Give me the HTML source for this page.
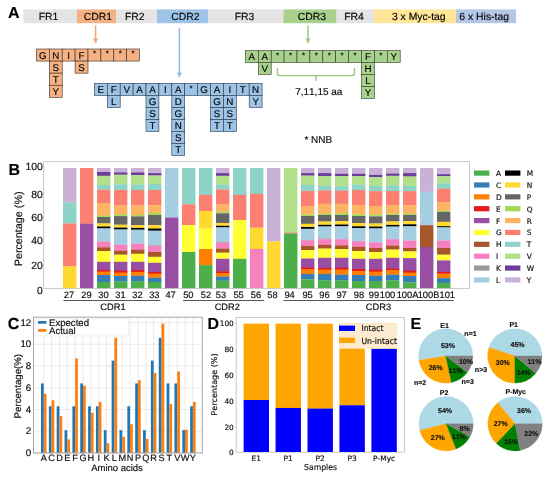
<!DOCTYPE html>
<html><head><meta charset="utf-8"><title>Figure</title>
<style>
html,body{margin:0;padding:0;background:#fff;}
body{width:550px;height:481px;overflow:hidden;}
svg{display:block;filter:blur(0.3px);}
svg text{text-rendering:geometricPrecision;font-kerning:none;stroke:#1a1a1a;stroke-width:0.18px;}
</style></head><body>
<svg width="550" height="481" viewBox="0 0 550 481">
<rect x="0" y="0" width="550" height="481" fill="#ffffff"/>
<g id="panelA">
<text x="7.90" y="18.40" font-size="16" text-anchor="start" font-family='"Liberation Sans", Arial, sans-serif' font-weight="bold" fill="#000">A</text>
<rect x="23.40" y="9.40" width="53.60" height="13.80" fill="#E4E4E4"/>
<rect x="77.00" y="9.40" width="39.00" height="13.80" fill="#F4B183"/>
<rect x="116.00" y="9.40" width="41.00" height="13.80" fill="#E4E4E4"/>
<rect x="157.00" y="9.40" width="51.40" height="13.80" fill="#9DC3E6"/>
<rect x="208.40" y="9.40" width="75.00" height="13.80" fill="#E4E4E4"/>
<rect x="283.40" y="9.40" width="53.20" height="13.80" fill="#A9D18E"/>
<rect x="336.60" y="9.40" width="37.40" height="13.80" fill="#E4E4E4"/>
<rect x="374.00" y="9.40" width="82.00" height="13.80" fill="#FFE699"/>
<rect x="456.00" y="9.40" width="60.00" height="13.80" fill="#B4C7E7"/>
<text x="48.50" y="20.10" font-size="10.4" text-anchor="middle" font-family='"Liberation Sans", Arial, sans-serif' fill="#000">FR1</text>
<text x="97.90" y="20.10" font-size="10.4" text-anchor="middle" font-family='"Liberation Sans", Arial, sans-serif' fill="#000">CDR1</text>
<text x="134.80" y="20.10" font-size="10.4" text-anchor="middle" font-family='"Liberation Sans", Arial, sans-serif' fill="#000">FR2</text>
<text x="185.50" y="20.10" font-size="10.4" text-anchor="middle" font-family='"Liberation Sans", Arial, sans-serif' fill="#000">CDR2</text>
<text x="244.50" y="20.10" font-size="10.4" text-anchor="middle" font-family='"Liberation Sans", Arial, sans-serif' fill="#000">FR3</text>
<text x="312.00" y="20.10" font-size="10.4" text-anchor="middle" font-family='"Liberation Sans", Arial, sans-serif' fill="#000">CDR3</text>
<text x="354.00" y="20.10" font-size="10.4" text-anchor="middle" font-family='"Liberation Sans", Arial, sans-serif' fill="#000">FR4</text>
<text x="418.80" y="20.10" font-size="10.4" text-anchor="middle" font-family='"Liberation Sans", Arial, sans-serif' fill="#000">3 x Myc-tag</text>
<text x="484.20" y="20.10" font-size="10.4" text-anchor="middle" font-family='"Liberation Sans", Arial, sans-serif' fill="#000">6 x His-tag</text>
<line x1="95.60" y1="25.40" x2="95.60" y2="40.90" stroke="#F2A676" stroke-width="1.5"/>
<path d="M93.50 38.60 L95.60 43.40 L97.70 38.60 Z" fill="#F2A676" stroke="#F2A676" stroke-width="0.4" stroke-linejoin="round"/>
<line x1="179.40" y1="28.00" x2="179.40" y2="75.10" stroke="#8FBBE8" stroke-width="1.5"/>
<path d="M177.30 72.80 L179.40 77.60 L181.50 72.80 Z" fill="#8FBBE8" stroke="#8FBBE8" stroke-width="0.4" stroke-linejoin="round"/>
<line x1="308.00" y1="25.30" x2="308.00" y2="41.00" stroke="#9CCB7E" stroke-width="1.5"/>
<path d="M305.90 38.70 L308.00 43.50 L310.10 38.70 Z" fill="#9CCB7E" stroke="#9CCB7E" stroke-width="0.4" stroke-linejoin="round"/>
<rect x="36.40" y="49.00" width="12.90" height="12.08" fill="#F4B183" stroke="#3a2a20" stroke-width="0.6"/>
<rect x="49.30" y="49.00" width="12.90" height="12.08" fill="#F4B183" stroke="#3a2a20" stroke-width="0.6"/>
<rect x="49.30" y="61.08" width="12.90" height="12.08" fill="#F4B183" stroke="#3a2a20" stroke-width="0.6"/>
<rect x="49.30" y="73.16" width="12.90" height="12.08" fill="#F4B183" stroke="#3a2a20" stroke-width="0.6"/>
<rect x="49.30" y="85.24" width="12.90" height="12.08" fill="#F4B183" stroke="#3a2a20" stroke-width="0.6"/>
<rect x="62.20" y="49.00" width="12.90" height="12.08" fill="#F4B183" stroke="#3a2a20" stroke-width="0.6"/>
<rect x="75.10" y="49.00" width="12.90" height="12.08" fill="#F4B183" stroke="#3a2a20" stroke-width="0.6"/>
<rect x="75.10" y="61.08" width="12.90" height="12.08" fill="#F4B183" stroke="#3a2a20" stroke-width="0.6"/>
<rect x="88.00" y="49.00" width="12.90" height="12.08" fill="#F4B183" stroke="#3a2a20" stroke-width="0.6"/>
<rect x="100.90" y="49.00" width="12.90" height="12.08" fill="#F4B183" stroke="#3a2a20" stroke-width="0.6"/>
<rect x="113.80" y="49.00" width="12.90" height="12.08" fill="#F4B183" stroke="#3a2a20" stroke-width="0.6"/>
<rect x="126.70" y="49.00" width="12.90" height="12.08" fill="#F4B183" stroke="#3a2a20" stroke-width="0.6"/>
<text x="42.85" y="58.54" font-size="9.8" text-anchor="middle" font-family='"Liberation Sans", Arial, sans-serif' fill="#000" stroke="#000" stroke-width="0.15">G</text>
<text x="55.75" y="58.54" font-size="9.8" text-anchor="middle" font-family='"Liberation Sans", Arial, sans-serif' fill="#000" stroke="#000" stroke-width="0.15">N</text>
<text x="55.75" y="70.62" font-size="9.8" text-anchor="middle" font-family='"Liberation Sans", Arial, sans-serif' fill="#000" stroke="#000" stroke-width="0.15">S</text>
<text x="55.75" y="82.70" font-size="9.8" text-anchor="middle" font-family='"Liberation Sans", Arial, sans-serif' fill="#000" stroke="#000" stroke-width="0.15">T</text>
<text x="55.75" y="94.78" font-size="9.8" text-anchor="middle" font-family='"Liberation Sans", Arial, sans-serif' fill="#000" stroke="#000" stroke-width="0.15">Y</text>
<text x="68.65" y="58.54" font-size="9.8" text-anchor="middle" font-family='"Liberation Sans", Arial, sans-serif' fill="#000" stroke="#000" stroke-width="0.15">I</text>
<text x="81.55" y="58.54" font-size="9.8" text-anchor="middle" font-family='"Liberation Sans", Arial, sans-serif' fill="#000" stroke="#000" stroke-width="0.15">F</text>
<text x="81.55" y="70.62" font-size="9.8" text-anchor="middle" font-family='"Liberation Sans", Arial, sans-serif' fill="#000" stroke="#000" stroke-width="0.15">S</text>
<text x="94.45" y="56.30" font-size="8" text-anchor="middle" font-family='"Liberation Sans", Arial, sans-serif' fill="#000" stroke="#000" stroke-width="0.25">*</text>
<text x="107.35" y="56.30" font-size="8" text-anchor="middle" font-family='"Liberation Sans", Arial, sans-serif' fill="#000" stroke="#000" stroke-width="0.25">*</text>
<text x="120.25" y="56.30" font-size="8" text-anchor="middle" font-family='"Liberation Sans", Arial, sans-serif' fill="#000" stroke="#000" stroke-width="0.25">*</text>
<text x="133.15" y="56.30" font-size="8" text-anchor="middle" font-family='"Liberation Sans", Arial, sans-serif' fill="#000" stroke="#000" stroke-width="0.25">*</text>
<rect x="94.40" y="83.40" width="12.90" height="12.03" fill="#9DC3E6" stroke="#26364a" stroke-width="0.6"/>
<rect x="107.30" y="83.40" width="12.90" height="12.03" fill="#9DC3E6" stroke="#26364a" stroke-width="0.6"/>
<rect x="107.30" y="95.43" width="12.90" height="12.03" fill="#9DC3E6" stroke="#26364a" stroke-width="0.6"/>
<rect x="120.20" y="83.40" width="12.90" height="12.03" fill="#9DC3E6" stroke="#26364a" stroke-width="0.6"/>
<rect x="133.10" y="83.40" width="12.90" height="12.03" fill="#9DC3E6" stroke="#26364a" stroke-width="0.6"/>
<rect x="146.00" y="83.40" width="12.90" height="12.03" fill="#9DC3E6" stroke="#26364a" stroke-width="0.6"/>
<rect x="146.00" y="95.43" width="12.90" height="12.03" fill="#9DC3E6" stroke="#26364a" stroke-width="0.6"/>
<rect x="146.00" y="107.46" width="12.90" height="12.03" fill="#9DC3E6" stroke="#26364a" stroke-width="0.6"/>
<rect x="146.00" y="119.49" width="12.90" height="12.03" fill="#9DC3E6" stroke="#26364a" stroke-width="0.6"/>
<rect x="158.90" y="83.40" width="12.90" height="12.03" fill="#9DC3E6" stroke="#26364a" stroke-width="0.6"/>
<rect x="171.80" y="83.40" width="12.90" height="12.03" fill="#9DC3E6" stroke="#26364a" stroke-width="0.6"/>
<rect x="171.80" y="95.43" width="12.90" height="12.03" fill="#9DC3E6" stroke="#26364a" stroke-width="0.6"/>
<rect x="171.80" y="107.46" width="12.90" height="12.03" fill="#9DC3E6" stroke="#26364a" stroke-width="0.6"/>
<rect x="171.80" y="119.49" width="12.90" height="12.03" fill="#9DC3E6" stroke="#26364a" stroke-width="0.6"/>
<rect x="171.80" y="131.52" width="12.90" height="12.03" fill="#9DC3E6" stroke="#26364a" stroke-width="0.6"/>
<rect x="171.80" y="143.55" width="12.90" height="12.03" fill="#9DC3E6" stroke="#26364a" stroke-width="0.6"/>
<rect x="184.70" y="83.40" width="12.90" height="12.03" fill="#9DC3E6" stroke="#26364a" stroke-width="0.6"/>
<rect x="197.60" y="83.40" width="12.90" height="12.03" fill="#9DC3E6" stroke="#26364a" stroke-width="0.6"/>
<rect x="210.50" y="83.40" width="12.90" height="12.03" fill="#9DC3E6" stroke="#26364a" stroke-width="0.6"/>
<rect x="210.50" y="95.43" width="12.90" height="12.03" fill="#9DC3E6" stroke="#26364a" stroke-width="0.6"/>
<rect x="210.50" y="107.46" width="12.90" height="12.03" fill="#9DC3E6" stroke="#26364a" stroke-width="0.6"/>
<rect x="210.50" y="119.49" width="12.90" height="12.03" fill="#9DC3E6" stroke="#26364a" stroke-width="0.6"/>
<rect x="223.40" y="83.40" width="12.90" height="12.03" fill="#9DC3E6" stroke="#26364a" stroke-width="0.6"/>
<rect x="223.40" y="95.43" width="12.90" height="12.03" fill="#9DC3E6" stroke="#26364a" stroke-width="0.6"/>
<rect x="223.40" y="107.46" width="12.90" height="12.03" fill="#9DC3E6" stroke="#26364a" stroke-width="0.6"/>
<rect x="223.40" y="119.49" width="12.90" height="12.03" fill="#9DC3E6" stroke="#26364a" stroke-width="0.6"/>
<rect x="236.30" y="83.40" width="12.90" height="12.03" fill="#9DC3E6" stroke="#26364a" stroke-width="0.6"/>
<rect x="249.20" y="83.40" width="12.90" height="12.03" fill="#9DC3E6" stroke="#26364a" stroke-width="0.6"/>
<rect x="249.20" y="95.43" width="12.90" height="12.03" fill="#9DC3E6" stroke="#26364a" stroke-width="0.6"/>
<text x="100.85" y="92.92" font-size="9.8" text-anchor="middle" font-family='"Liberation Sans", Arial, sans-serif' fill="#000" stroke="#000" stroke-width="0.15">E</text>
<text x="113.75" y="92.92" font-size="9.8" text-anchor="middle" font-family='"Liberation Sans", Arial, sans-serif' fill="#000" stroke="#000" stroke-width="0.15">F</text>
<text x="113.75" y="104.95" font-size="9.8" text-anchor="middle" font-family='"Liberation Sans", Arial, sans-serif' fill="#000" stroke="#000" stroke-width="0.15">L</text>
<text x="126.65" y="92.92" font-size="9.8" text-anchor="middle" font-family='"Liberation Sans", Arial, sans-serif' fill="#000" stroke="#000" stroke-width="0.15">V</text>
<text x="139.55" y="92.92" font-size="9.8" text-anchor="middle" font-family='"Liberation Sans", Arial, sans-serif' fill="#000" stroke="#000" stroke-width="0.15">A</text>
<text x="152.45" y="92.92" font-size="9.8" text-anchor="middle" font-family='"Liberation Sans", Arial, sans-serif' fill="#000" stroke="#000" stroke-width="0.15">A</text>
<text x="152.45" y="104.95" font-size="9.8" text-anchor="middle" font-family='"Liberation Sans", Arial, sans-serif' fill="#000" stroke="#000" stroke-width="0.15">G</text>
<text x="152.45" y="116.98" font-size="9.8" text-anchor="middle" font-family='"Liberation Sans", Arial, sans-serif' fill="#000" stroke="#000" stroke-width="0.15">S</text>
<text x="152.45" y="129.00" font-size="9.8" text-anchor="middle" font-family='"Liberation Sans", Arial, sans-serif' fill="#000" stroke="#000" stroke-width="0.15">T</text>
<text x="165.35" y="92.92" font-size="9.8" text-anchor="middle" font-family='"Liberation Sans", Arial, sans-serif' fill="#000" stroke="#000" stroke-width="0.15">I</text>
<text x="178.25" y="92.92" font-size="9.8" text-anchor="middle" font-family='"Liberation Sans", Arial, sans-serif' fill="#000" stroke="#000" stroke-width="0.15">A</text>
<text x="178.25" y="104.95" font-size="9.8" text-anchor="middle" font-family='"Liberation Sans", Arial, sans-serif' fill="#000" stroke="#000" stroke-width="0.15">D</text>
<text x="178.25" y="116.98" font-size="9.8" text-anchor="middle" font-family='"Liberation Sans", Arial, sans-serif' fill="#000" stroke="#000" stroke-width="0.15">G</text>
<text x="178.25" y="129.00" font-size="9.8" text-anchor="middle" font-family='"Liberation Sans", Arial, sans-serif' fill="#000" stroke="#000" stroke-width="0.15">N</text>
<text x="178.25" y="141.03" font-size="9.8" text-anchor="middle" font-family='"Liberation Sans", Arial, sans-serif' fill="#000" stroke="#000" stroke-width="0.15">S</text>
<text x="178.25" y="153.06" font-size="9.8" text-anchor="middle" font-family='"Liberation Sans", Arial, sans-serif' fill="#000" stroke="#000" stroke-width="0.15">T</text>
<text x="191.15" y="90.70" font-size="8" text-anchor="middle" font-family='"Liberation Sans", Arial, sans-serif' fill="#000" stroke="#000" stroke-width="0.25">*</text>
<text x="204.05" y="92.92" font-size="9.8" text-anchor="middle" font-family='"Liberation Sans", Arial, sans-serif' fill="#000" stroke="#000" stroke-width="0.15">G</text>
<text x="216.95" y="92.92" font-size="9.8" text-anchor="middle" font-family='"Liberation Sans", Arial, sans-serif' fill="#000" stroke="#000" stroke-width="0.15">A</text>
<text x="216.95" y="104.95" font-size="9.8" text-anchor="middle" font-family='"Liberation Sans", Arial, sans-serif' fill="#000" stroke="#000" stroke-width="0.15">G</text>
<text x="216.95" y="116.98" font-size="9.8" text-anchor="middle" font-family='"Liberation Sans", Arial, sans-serif' fill="#000" stroke="#000" stroke-width="0.15">S</text>
<text x="216.95" y="129.00" font-size="9.8" text-anchor="middle" font-family='"Liberation Sans", Arial, sans-serif' fill="#000" stroke="#000" stroke-width="0.15">T</text>
<text x="229.85" y="92.92" font-size="9.8" text-anchor="middle" font-family='"Liberation Sans", Arial, sans-serif' fill="#000" stroke="#000" stroke-width="0.15">I</text>
<text x="229.85" y="104.95" font-size="9.8" text-anchor="middle" font-family='"Liberation Sans", Arial, sans-serif' fill="#000" stroke="#000" stroke-width="0.15">N</text>
<text x="229.85" y="116.98" font-size="9.8" text-anchor="middle" font-family='"Liberation Sans", Arial, sans-serif' fill="#000" stroke="#000" stroke-width="0.15">S</text>
<text x="229.85" y="129.00" font-size="9.8" text-anchor="middle" font-family='"Liberation Sans", Arial, sans-serif' fill="#000" stroke="#000" stroke-width="0.15">T</text>
<text x="242.75" y="92.92" font-size="9.8" text-anchor="middle" font-family='"Liberation Sans", Arial, sans-serif' fill="#000" stroke="#000" stroke-width="0.15">T</text>
<text x="255.65" y="92.92" font-size="9.8" text-anchor="middle" font-family='"Liberation Sans", Arial, sans-serif' fill="#000" stroke="#000" stroke-width="0.15">N</text>
<text x="255.65" y="104.95" font-size="9.8" text-anchor="middle" font-family='"Liberation Sans", Arial, sans-serif' fill="#000" stroke="#000" stroke-width="0.15">Y</text>
<rect x="245.40" y="50.50" width="12.90" height="11.97" fill="#A9D18E" stroke="#2a3a20" stroke-width="0.6"/>
<rect x="258.30" y="50.50" width="12.90" height="11.97" fill="#A9D18E" stroke="#2a3a20" stroke-width="0.6"/>
<rect x="258.30" y="62.47" width="12.90" height="11.97" fill="#A9D18E" stroke="#2a3a20" stroke-width="0.6"/>
<rect x="271.20" y="50.50" width="12.90" height="11.97" fill="#A9D18E" stroke="#2a3a20" stroke-width="0.6"/>
<rect x="284.10" y="50.50" width="12.90" height="11.97" fill="#A9D18E" stroke="#2a3a20" stroke-width="0.6"/>
<rect x="297.00" y="50.50" width="12.90" height="11.97" fill="#A9D18E" stroke="#2a3a20" stroke-width="0.6"/>
<rect x="309.90" y="50.50" width="12.90" height="11.97" fill="#A9D18E" stroke="#2a3a20" stroke-width="0.6"/>
<rect x="322.80" y="50.50" width="12.90" height="11.97" fill="#A9D18E" stroke="#2a3a20" stroke-width="0.6"/>
<rect x="335.70" y="50.50" width="12.90" height="11.97" fill="#A9D18E" stroke="#2a3a20" stroke-width="0.6"/>
<rect x="348.60" y="50.50" width="12.90" height="11.97" fill="#A9D18E" stroke="#2a3a20" stroke-width="0.6"/>
<rect x="361.50" y="50.50" width="12.90" height="11.97" fill="#A9D18E" stroke="#2a3a20" stroke-width="0.6"/>
<rect x="361.50" y="62.47" width="12.90" height="11.97" fill="#A9D18E" stroke="#2a3a20" stroke-width="0.6"/>
<rect x="361.50" y="74.44" width="12.90" height="11.97" fill="#A9D18E" stroke="#2a3a20" stroke-width="0.6"/>
<rect x="361.50" y="86.41" width="12.90" height="11.97" fill="#A9D18E" stroke="#2a3a20" stroke-width="0.6"/>
<rect x="374.40" y="50.50" width="12.90" height="11.97" fill="#A9D18E" stroke="#2a3a20" stroke-width="0.6"/>
<rect x="387.30" y="50.50" width="12.90" height="11.97" fill="#A9D18E" stroke="#2a3a20" stroke-width="0.6"/>
<text x="251.85" y="59.98" font-size="9.8" text-anchor="middle" font-family='"Liberation Sans", Arial, sans-serif' fill="#000" stroke="#000" stroke-width="0.15">A</text>
<text x="264.75" y="59.98" font-size="9.8" text-anchor="middle" font-family='"Liberation Sans", Arial, sans-serif' fill="#000" stroke="#000" stroke-width="0.15">A</text>
<text x="264.75" y="71.95" font-size="9.8" text-anchor="middle" font-family='"Liberation Sans", Arial, sans-serif' fill="#000" stroke="#000" stroke-width="0.15">V</text>
<text x="277.65" y="57.80" font-size="8" text-anchor="middle" font-family='"Liberation Sans", Arial, sans-serif' fill="#000" stroke="#000" stroke-width="0.25">*</text>
<text x="290.55" y="57.80" font-size="8" text-anchor="middle" font-family='"Liberation Sans", Arial, sans-serif' fill="#000" stroke="#000" stroke-width="0.25">*</text>
<text x="303.45" y="57.80" font-size="8" text-anchor="middle" font-family='"Liberation Sans", Arial, sans-serif' fill="#000" stroke="#000" stroke-width="0.25">*</text>
<text x="316.35" y="57.80" font-size="8" text-anchor="middle" font-family='"Liberation Sans", Arial, sans-serif' fill="#000" stroke="#000" stroke-width="0.25">*</text>
<text x="329.25" y="57.80" font-size="8" text-anchor="middle" font-family='"Liberation Sans", Arial, sans-serif' fill="#000" stroke="#000" stroke-width="0.25">*</text>
<text x="342.15" y="57.80" font-size="8" text-anchor="middle" font-family='"Liberation Sans", Arial, sans-serif' fill="#000" stroke="#000" stroke-width="0.25">*</text>
<text x="355.05" y="57.80" font-size="8" text-anchor="middle" font-family='"Liberation Sans", Arial, sans-serif' fill="#000" stroke="#000" stroke-width="0.25">*</text>
<text x="367.95" y="59.98" font-size="9.8" text-anchor="middle" font-family='"Liberation Sans", Arial, sans-serif' fill="#000" stroke="#000" stroke-width="0.15">F</text>
<text x="367.95" y="71.95" font-size="9.8" text-anchor="middle" font-family='"Liberation Sans", Arial, sans-serif' fill="#000" stroke="#000" stroke-width="0.15">H</text>
<text x="367.95" y="83.92" font-size="9.8" text-anchor="middle" font-family='"Liberation Sans", Arial, sans-serif' fill="#000" stroke="#000" stroke-width="0.15">L</text>
<text x="367.95" y="95.89" font-size="9.8" text-anchor="middle" font-family='"Liberation Sans", Arial, sans-serif' fill="#000" stroke="#000" stroke-width="0.15">Y</text>
<text x="380.85" y="57.80" font-size="8" text-anchor="middle" font-family='"Liberation Sans", Arial, sans-serif' fill="#000" stroke="#000" stroke-width="0.25">*</text>
<text x="393.75" y="59.98" font-size="9.8" text-anchor="middle" font-family='"Liberation Sans", Arial, sans-serif' fill="#000" stroke="#000" stroke-width="0.15">Y</text>
<path d="M277.4 68.4 V73.6 Q277.4 75.6 279.4 75.6 H352.4 Q354.4 75.6 354.4 73.6 V68.4 M316 75.6 V80.4" fill="none" stroke="#94C874" stroke-width="1.4" stroke-linecap="round"/>
<text x="318.80" y="94.60" font-size="10" text-anchor="middle" font-family='"Liberation Sans", Arial, sans-serif' fill="#0d0d0d">7,11,15 aa</text>
<text x="304.40" y="143.40" font-size="10" text-anchor="start" font-family='"Liberation Sans", Arial, sans-serif' fill="#0d0d0d">* NNB</text>
</g>
<g id="panelB">
<text x="8.40" y="175.20" font-size="16" text-anchor="start" font-family='"Liberation Sans", Arial, sans-serif' font-weight="bold" fill="#000">B</text>
<rect x="43.60" y="161.60" width="425.90" height="126.80" fill="#fff" stroke="#c8c8c8" stroke-width="1.0"/>
<rect x="63.00" y="168.00" width="13.40" height="34.55" fill="#CAB2D6"/>
<rect x="63.00" y="202.40" width="13.40" height="21.15" fill="#8DD3C7"/>
<rect x="63.00" y="223.40" width="13.40" height="43.15" fill="#FB8072"/>
<rect x="63.00" y="266.40" width="13.40" height="21.75" fill="#FFD92F"/>
<rect x="80.00" y="168.00" width="13.40" height="55.75" fill="#FB8072"/>
<rect x="80.00" y="223.60" width="13.40" height="64.55" fill="#984EA3"/>
<rect x="97.00" y="168.00" width="13.40" height="4.15" fill="#CAB2D6"/>
<rect x="97.00" y="172.00" width="13.40" height="3.95" fill="#6A3D9A"/>
<rect x="97.00" y="175.80" width="13.40" height="9.35" fill="#B2DF8A"/>
<rect x="97.00" y="185.00" width="13.40" height="4.75" fill="#8DD3C7"/>
<rect x="97.00" y="189.60" width="13.40" height="13.65" fill="#FB8072"/>
<rect x="97.00" y="203.10" width="13.40" height="12.75" fill="#FDB462"/>
<rect x="97.00" y="215.70" width="13.40" height="1.45" fill="#A6D854"/>
<rect x="97.00" y="217.00" width="13.40" height="6.55" fill="#666666"/>
<rect x="97.00" y="223.40" width="13.40" height="3.25" fill="#FFD92F"/>
<rect x="97.00" y="226.50" width="13.40" height="2.05" fill="#000000"/>
<rect x="97.00" y="228.40" width="13.40" height="13.25" fill="#A6CEE3"/>
<rect x="97.00" y="241.50" width="13.40" height="5.95" fill="#F781BF"/>
<rect x="97.00" y="247.30" width="13.40" height="3.85" fill="#A65628"/>
<rect x="97.00" y="251.00" width="13.40" height="10.95" fill="#FFFF33"/>
<rect x="97.00" y="261.80" width="13.40" height="8.65" fill="#984EA3"/>
<rect x="97.00" y="270.00" width="13.40" height="1.95" fill="#E41A1C"/>
<rect x="97.00" y="271.60" width="13.40" height="3.55" fill="#FF7F00"/>
<rect x="97.00" y="275.00" width="13.40" height="7.15" fill="#377EB8"/>
<rect x="97.00" y="282.00" width="13.40" height="6.15" fill="#4DAF4A"/>
<rect x="114.00" y="168.00" width="13.40" height="4.55" fill="#CAB2D6"/>
<rect x="114.00" y="172.40" width="13.40" height="2.45" fill="#6A3D9A"/>
<rect x="114.00" y="174.70" width="13.40" height="9.75" fill="#B2DF8A"/>
<rect x="114.00" y="184.30" width="13.40" height="5.85" fill="#8DD3C7"/>
<rect x="114.00" y="190.00" width="13.40" height="15.65" fill="#FB8072"/>
<rect x="114.00" y="205.50" width="13.40" height="8.95" fill="#FDB462"/>
<rect x="114.00" y="214.30" width="13.40" height="1.95" fill="#A6D854"/>
<rect x="114.00" y="216.10" width="13.40" height="8.75" fill="#666666"/>
<rect x="114.00" y="224.70" width="13.40" height="3.05" fill="#FFD92F"/>
<rect x="114.00" y="227.60" width="13.40" height="2.05" fill="#000000"/>
<rect x="114.00" y="229.50" width="13.40" height="15.25" fill="#A6CEE3"/>
<rect x="114.00" y="244.60" width="13.40" height="6.25" fill="#F781BF"/>
<rect x="114.00" y="250.70" width="13.40" height="4.15" fill="#A65628"/>
<rect x="114.00" y="254.70" width="13.40" height="7.25" fill="#FFFF33"/>
<rect x="114.00" y="261.80" width="13.40" height="9.35" fill="#984EA3"/>
<rect x="114.00" y="270.70" width="13.40" height="2.25" fill="#E41A1C"/>
<rect x="114.00" y="272.60" width="13.40" height="3.55" fill="#FF7F00"/>
<rect x="114.00" y="276.00" width="13.40" height="5.65" fill="#377EB8"/>
<rect x="114.00" y="281.50" width="13.40" height="6.65" fill="#4DAF4A"/>
<rect x="131.00" y="168.00" width="13.40" height="4.55" fill="#CAB2D6"/>
<rect x="131.00" y="172.40" width="13.40" height="2.85" fill="#6A3D9A"/>
<rect x="131.00" y="175.10" width="13.40" height="9.65" fill="#B2DF8A"/>
<rect x="131.00" y="184.60" width="13.40" height="5.55" fill="#8DD3C7"/>
<rect x="131.00" y="190.00" width="13.40" height="15.65" fill="#FB8072"/>
<rect x="131.00" y="205.50" width="13.40" height="9.65" fill="#FDB462"/>
<rect x="131.00" y="215.00" width="13.40" height="1.55" fill="#A6D854"/>
<rect x="131.00" y="216.40" width="13.40" height="8.85" fill="#666666"/>
<rect x="131.00" y="225.10" width="13.40" height="2.95" fill="#FFD92F"/>
<rect x="131.00" y="227.90" width="13.40" height="1.95" fill="#000000"/>
<rect x="131.00" y="229.70" width="13.40" height="14.05" fill="#A6CEE3"/>
<rect x="131.00" y="243.60" width="13.40" height="6.15" fill="#F781BF"/>
<rect x="131.00" y="249.60" width="13.40" height="4.35" fill="#A65628"/>
<rect x="131.00" y="253.80" width="13.40" height="8.15" fill="#FFFF33"/>
<rect x="131.00" y="261.80" width="13.40" height="8.65" fill="#984EA3"/>
<rect x="131.00" y="270.00" width="13.40" height="2.25" fill="#E41A1C"/>
<rect x="131.00" y="271.90" width="13.40" height="3.95" fill="#FF7F00"/>
<rect x="131.00" y="275.70" width="13.40" height="5.55" fill="#377EB8"/>
<rect x="131.00" y="281.10" width="13.40" height="7.05" fill="#4DAF4A"/>
<rect x="148.00" y="168.00" width="13.40" height="5.25" fill="#CAB2D6"/>
<rect x="148.00" y="173.10" width="13.40" height="2.55" fill="#6A3D9A"/>
<rect x="148.00" y="175.50" width="13.40" height="8.55" fill="#B2DF8A"/>
<rect x="148.00" y="183.90" width="13.40" height="6.25" fill="#8DD3C7"/>
<rect x="148.00" y="190.00" width="13.40" height="15.45" fill="#FB8072"/>
<rect x="148.00" y="205.30" width="13.40" height="7.85" fill="#FDB462"/>
<rect x="148.00" y="213.00" width="13.40" height="2.15" fill="#A6D854"/>
<rect x="148.00" y="215.00" width="13.40" height="10.25" fill="#666666"/>
<rect x="148.00" y="225.10" width="13.40" height="3.55" fill="#FFD92F"/>
<rect x="148.00" y="228.50" width="13.40" height="2.35" fill="#000000"/>
<rect x="148.00" y="230.70" width="13.40" height="14.75" fill="#A6CEE3"/>
<rect x="148.00" y="245.30" width="13.40" height="0.85" fill="#999999"/>
<rect x="148.00" y="246.00" width="13.40" height="6.15" fill="#F781BF"/>
<rect x="148.00" y="252.00" width="13.40" height="4.95" fill="#A65628"/>
<rect x="148.00" y="256.80" width="13.40" height="6.15" fill="#FFFF33"/>
<rect x="148.00" y="262.80" width="13.40" height="9.65" fill="#984EA3"/>
<rect x="148.00" y="272.00" width="13.40" height="1.95" fill="#E41A1C"/>
<rect x="148.00" y="273.60" width="13.40" height="4.25" fill="#FF7F00"/>
<rect x="148.00" y="277.70" width="13.40" height="4.45" fill="#377EB8"/>
<rect x="148.00" y="282.00" width="13.40" height="6.15" fill="#4DAF4A"/>
<rect x="165.00" y="168.00" width="13.40" height="49.65" fill="#A6CEE3"/>
<rect x="165.00" y="217.50" width="13.40" height="70.65" fill="#984EA3"/>
<rect x="182.00" y="168.00" width="13.40" height="36.45" fill="#8DD3C7"/>
<rect x="182.00" y="204.30" width="13.40" height="20.85" fill="#FB8072"/>
<rect x="182.00" y="225.00" width="13.40" height="27.15" fill="#FFFF33"/>
<rect x="182.00" y="252.00" width="13.40" height="36.15" fill="#4DAF4A"/>
<rect x="199.00" y="168.00" width="13.40" height="26.95" fill="#8DD3C7"/>
<rect x="199.00" y="194.80" width="13.40" height="16.35" fill="#FB8072"/>
<rect x="199.00" y="211.00" width="13.40" height="17.65" fill="#FFD92F"/>
<rect x="199.00" y="228.50" width="13.40" height="20.65" fill="#FFFF33"/>
<rect x="199.00" y="249.00" width="13.40" height="16.25" fill="#FF7F00"/>
<rect x="199.00" y="265.10" width="13.40" height="23.05" fill="#4DAF4A"/>
<rect x="216.00" y="168.00" width="13.40" height="5.25" fill="#CAB2D6"/>
<rect x="216.00" y="173.10" width="13.40" height="2.85" fill="#6A3D9A"/>
<rect x="216.00" y="175.80" width="13.40" height="8.95" fill="#B2DF8A"/>
<rect x="216.00" y="184.60" width="13.40" height="5.15" fill="#8DD3C7"/>
<rect x="216.00" y="189.60" width="13.40" height="15.15" fill="#FB8072"/>
<rect x="216.00" y="204.60" width="13.40" height="7.15" fill="#FDB462"/>
<rect x="216.00" y="211.60" width="13.40" height="1.85" fill="#A6D854"/>
<rect x="216.00" y="213.30" width="13.40" height="9.75" fill="#666666"/>
<rect x="216.00" y="222.90" width="13.40" height="3.05" fill="#FFD92F"/>
<rect x="216.00" y="225.80" width="13.40" height="1.75" fill="#000000"/>
<rect x="216.00" y="227.40" width="13.40" height="14.65" fill="#A6CEE3"/>
<rect x="216.00" y="241.90" width="13.40" height="0.85" fill="#999999"/>
<rect x="216.00" y="242.60" width="13.40" height="6.15" fill="#F781BF"/>
<rect x="216.00" y="248.60" width="13.40" height="4.25" fill="#A65628"/>
<rect x="216.00" y="252.70" width="13.40" height="6.25" fill="#FFFF33"/>
<rect x="216.00" y="258.80" width="13.40" height="12.95" fill="#984EA3"/>
<rect x="216.00" y="271.30" width="13.40" height="2.05" fill="#E41A1C"/>
<rect x="216.00" y="273.00" width="13.40" height="3.75" fill="#FF7F00"/>
<rect x="216.00" y="276.60" width="13.40" height="4.25" fill="#377EB8"/>
<rect x="216.00" y="280.70" width="13.40" height="7.45" fill="#4DAF4A"/>
<rect x="233.00" y="168.00" width="13.40" height="26.95" fill="#8DD3C7"/>
<rect x="233.00" y="194.80" width="13.40" height="25.35" fill="#FB8072"/>
<rect x="233.00" y="220.00" width="13.40" height="38.95" fill="#FFFF33"/>
<rect x="233.00" y="258.80" width="13.40" height="29.35" fill="#4DAF4A"/>
<rect x="250.00" y="168.00" width="13.40" height="25.95" fill="#8DD3C7"/>
<rect x="250.00" y="193.80" width="13.40" height="34.05" fill="#FB8072"/>
<rect x="250.00" y="227.70" width="13.40" height="21.45" fill="#FFD92F"/>
<rect x="250.00" y="249.00" width="13.40" height="39.15" fill="#F781BF"/>
<rect x="267.00" y="168.00" width="13.40" height="73.65" fill="#CAB2D6"/>
<rect x="267.00" y="241.50" width="13.40" height="46.65" fill="#FFD92F"/>
<rect x="284.00" y="168.00" width="13.40" height="64.55" fill="#B2DF8A"/>
<rect x="284.00" y="232.40" width="13.40" height="1.15" fill="#FB8072"/>
<rect x="284.00" y="233.40" width="13.40" height="54.75" fill="#4DAF4A"/>
<rect x="301.00" y="168.00" width="13.40" height="5.25" fill="#CAB2D6"/>
<rect x="301.00" y="173.10" width="13.40" height="2.65" fill="#6A3D9A"/>
<rect x="301.00" y="175.60" width="13.40" height="9.55" fill="#B2DF8A"/>
<rect x="301.00" y="185.00" width="13.40" height="6.15" fill="#8DD3C7"/>
<rect x="301.00" y="191.00" width="13.40" height="15.15" fill="#FB8072"/>
<rect x="301.00" y="206.00" width="13.40" height="8.55" fill="#FDB462"/>
<rect x="301.00" y="214.40" width="13.40" height="1.75" fill="#A6D854"/>
<rect x="301.00" y="216.00" width="13.40" height="7.95" fill="#666666"/>
<rect x="301.00" y="223.80" width="13.40" height="3.35" fill="#FFD92F"/>
<rect x="301.00" y="227.00" width="13.40" height="1.95" fill="#000000"/>
<rect x="301.00" y="228.80" width="13.40" height="11.25" fill="#A6CEE3"/>
<rect x="301.00" y="239.90" width="13.40" height="0.75" fill="#999999"/>
<rect x="301.00" y="240.50" width="13.40" height="5.65" fill="#F781BF"/>
<rect x="301.00" y="246.00" width="13.40" height="4.15" fill="#A65628"/>
<rect x="301.00" y="250.00" width="13.40" height="8.65" fill="#FFFF33"/>
<rect x="301.00" y="258.50" width="13.40" height="9.25" fill="#984EA3"/>
<rect x="301.00" y="267.30" width="13.40" height="2.35" fill="#E41A1C"/>
<rect x="301.00" y="269.30" width="13.40" height="4.75" fill="#FF7F00"/>
<rect x="301.00" y="273.90" width="13.40" height="5.55" fill="#377EB8"/>
<rect x="301.00" y="279.30" width="13.40" height="8.85" fill="#4DAF4A"/>
<rect x="318.00" y="168.00" width="13.40" height="5.25" fill="#CAB2D6"/>
<rect x="318.00" y="173.10" width="13.40" height="3.15" fill="#6A3D9A"/>
<rect x="318.00" y="176.10" width="13.40" height="10.05" fill="#B2DF8A"/>
<rect x="318.00" y="186.00" width="13.40" height="4.55" fill="#8DD3C7"/>
<rect x="318.00" y="190.40" width="13.40" height="13.55" fill="#FB8072"/>
<rect x="318.00" y="203.80" width="13.40" height="10.05" fill="#FDB462"/>
<rect x="318.00" y="213.70" width="13.40" height="1.45" fill="#A6D854"/>
<rect x="318.00" y="215.00" width="13.40" height="6.65" fill="#666666"/>
<rect x="318.00" y="221.50" width="13.40" height="3.45" fill="#FFD92F"/>
<rect x="318.00" y="224.80" width="13.40" height="1.85" fill="#000000"/>
<rect x="318.00" y="226.50" width="13.40" height="12.15" fill="#A6CEE3"/>
<rect x="318.00" y="238.50" width="13.40" height="0.85" fill="#999999"/>
<rect x="318.00" y="239.20" width="13.40" height="5.85" fill="#F781BF"/>
<rect x="318.00" y="244.90" width="13.40" height="3.85" fill="#A65628"/>
<rect x="318.00" y="248.60" width="13.40" height="9.35" fill="#FFFF33"/>
<rect x="318.00" y="257.80" width="13.40" height="10.55" fill="#984EA3"/>
<rect x="318.00" y="267.90" width="13.40" height="2.05" fill="#E41A1C"/>
<rect x="318.00" y="269.60" width="13.40" height="4.45" fill="#FF7F00"/>
<rect x="318.00" y="273.90" width="13.40" height="6.65" fill="#377EB8"/>
<rect x="318.00" y="280.40" width="13.40" height="7.75" fill="#4DAF4A"/>
<rect x="335.00" y="168.00" width="13.40" height="5.95" fill="#CAB2D6"/>
<rect x="335.00" y="173.80" width="13.40" height="2.45" fill="#6A3D9A"/>
<rect x="335.00" y="176.10" width="13.40" height="10.25" fill="#B2DF8A"/>
<rect x="335.00" y="186.20" width="13.40" height="4.65" fill="#8DD3C7"/>
<rect x="335.00" y="190.70" width="13.40" height="13.25" fill="#FB8072"/>
<rect x="335.00" y="203.80" width="13.40" height="9.65" fill="#FDB462"/>
<rect x="335.00" y="213.30" width="13.40" height="1.85" fill="#A6D854"/>
<rect x="335.00" y="215.00" width="13.40" height="6.25" fill="#666666"/>
<rect x="335.00" y="221.10" width="13.40" height="3.55" fill="#FFD92F"/>
<rect x="335.00" y="224.50" width="13.40" height="1.95" fill="#000000"/>
<rect x="335.00" y="226.30" width="13.40" height="13.05" fill="#A6CEE3"/>
<rect x="335.00" y="239.20" width="13.40" height="6.25" fill="#F781BF"/>
<rect x="335.00" y="245.30" width="13.40" height="3.85" fill="#A65628"/>
<rect x="335.00" y="249.00" width="13.40" height="8.95" fill="#FFFF33"/>
<rect x="335.00" y="257.80" width="13.40" height="10.35" fill="#984EA3"/>
<rect x="335.00" y="267.70" width="13.40" height="2.25" fill="#E41A1C"/>
<rect x="335.00" y="269.60" width="13.40" height="5.25" fill="#FF7F00"/>
<rect x="335.00" y="274.70" width="13.40" height="5.85" fill="#377EB8"/>
<rect x="335.00" y="280.40" width="13.40" height="7.75" fill="#4DAF4A"/>
<rect x="352.00" y="168.00" width="13.40" height="5.95" fill="#CAB2D6"/>
<rect x="352.00" y="173.80" width="13.40" height="2.55" fill="#6A3D9A"/>
<rect x="352.00" y="176.20" width="13.40" height="8.55" fill="#B2DF8A"/>
<rect x="352.00" y="184.60" width="13.40" height="5.55" fill="#8DD3C7"/>
<rect x="352.00" y="190.00" width="13.40" height="15.05" fill="#FB8072"/>
<rect x="352.00" y="204.90" width="13.40" height="9.65" fill="#FDB462"/>
<rect x="352.00" y="214.40" width="13.40" height="1.75" fill="#A6D854"/>
<rect x="352.00" y="216.00" width="13.40" height="7.25" fill="#666666"/>
<rect x="352.00" y="223.10" width="13.40" height="3.35" fill="#FFD92F"/>
<rect x="352.00" y="226.30" width="13.40" height="1.85" fill="#000000"/>
<rect x="352.00" y="228.00" width="13.40" height="13.35" fill="#A6CEE3"/>
<rect x="352.00" y="241.20" width="13.40" height="5.85" fill="#F781BF"/>
<rect x="352.00" y="246.90" width="13.40" height="4.25" fill="#A65628"/>
<rect x="352.00" y="251.00" width="13.40" height="7.95" fill="#FFFF33"/>
<rect x="352.00" y="258.80" width="13.40" height="10.65" fill="#984EA3"/>
<rect x="352.00" y="269.00" width="13.40" height="2.35" fill="#E41A1C"/>
<rect x="352.00" y="271.00" width="13.40" height="4.15" fill="#FF7F00"/>
<rect x="352.00" y="275.00" width="13.40" height="6.15" fill="#377EB8"/>
<rect x="352.00" y="281.00" width="13.40" height="7.15" fill="#4DAF4A"/>
<rect x="369.00" y="168.00" width="13.40" height="7.05" fill="#CAB2D6"/>
<rect x="369.00" y="174.90" width="13.40" height="2.45" fill="#6A3D9A"/>
<rect x="369.00" y="177.20" width="13.40" height="8.95" fill="#B2DF8A"/>
<rect x="369.00" y="186.00" width="13.40" height="5.25" fill="#8DD3C7"/>
<rect x="369.00" y="191.10" width="13.40" height="15.05" fill="#FB8072"/>
<rect x="369.00" y="206.00" width="13.40" height="8.75" fill="#FDB462"/>
<rect x="369.00" y="214.60" width="13.40" height="1.95" fill="#A6D854"/>
<rect x="369.00" y="216.40" width="13.40" height="7.25" fill="#666666"/>
<rect x="369.00" y="223.50" width="13.40" height="3.25" fill="#FFD92F"/>
<rect x="369.00" y="226.60" width="13.40" height="1.95" fill="#000000"/>
<rect x="369.00" y="228.40" width="13.40" height="14.05" fill="#A6CEE3"/>
<rect x="369.00" y="242.30" width="13.40" height="5.85" fill="#F781BF"/>
<rect x="369.00" y="248.00" width="13.40" height="4.15" fill="#A65628"/>
<rect x="369.00" y="252.00" width="13.40" height="6.95" fill="#FFFF33"/>
<rect x="369.00" y="258.80" width="13.40" height="11.25" fill="#984EA3"/>
<rect x="369.00" y="269.60" width="13.40" height="2.35" fill="#E41A1C"/>
<rect x="369.00" y="271.60" width="13.40" height="4.25" fill="#FF7F00"/>
<rect x="369.00" y="275.70" width="13.40" height="5.45" fill="#377EB8"/>
<rect x="369.00" y="281.00" width="13.40" height="7.15" fill="#4DAF4A"/>
<rect x="386.00" y="168.00" width="13.40" height="5.65" fill="#CAB2D6"/>
<rect x="386.00" y="173.50" width="13.40" height="2.45" fill="#6A3D9A"/>
<rect x="386.00" y="175.80" width="13.40" height="10.05" fill="#B2DF8A"/>
<rect x="386.00" y="185.70" width="13.40" height="5.45" fill="#8DD3C7"/>
<rect x="386.00" y="191.00" width="13.40" height="14.35" fill="#FB8072"/>
<rect x="386.00" y="205.20" width="13.40" height="8.65" fill="#FDB462"/>
<rect x="386.00" y="213.70" width="13.40" height="1.45" fill="#A6D854"/>
<rect x="386.00" y="215.00" width="13.40" height="6.55" fill="#666666"/>
<rect x="386.00" y="221.40" width="13.40" height="3.65" fill="#FFD92F"/>
<rect x="386.00" y="224.90" width="13.40" height="1.85" fill="#000000"/>
<rect x="386.00" y="226.60" width="13.40" height="12.75" fill="#A6CEE3"/>
<rect x="386.00" y="239.20" width="13.40" height="6.45" fill="#F781BF"/>
<rect x="386.00" y="245.50" width="13.40" height="4.25" fill="#A65628"/>
<rect x="386.00" y="249.60" width="13.40" height="8.35" fill="#FFFF33"/>
<rect x="386.00" y="257.80" width="13.40" height="11.25" fill="#984EA3"/>
<rect x="386.00" y="268.60" width="13.40" height="1.75" fill="#E41A1C"/>
<rect x="386.00" y="270.00" width="13.40" height="4.85" fill="#FF7F00"/>
<rect x="386.00" y="274.70" width="13.40" height="5.85" fill="#377EB8"/>
<rect x="386.00" y="280.40" width="13.40" height="7.75" fill="#4DAF4A"/>
<rect x="403.00" y="168.00" width="13.40" height="5.25" fill="#CAB2D6"/>
<rect x="403.00" y="173.10" width="13.40" height="3.55" fill="#6A3D9A"/>
<rect x="403.00" y="176.50" width="13.40" height="9.65" fill="#B2DF8A"/>
<rect x="403.00" y="186.00" width="13.40" height="5.25" fill="#8DD3C7"/>
<rect x="403.00" y="191.10" width="13.40" height="14.25" fill="#FB8072"/>
<rect x="403.00" y="205.20" width="13.40" height="8.65" fill="#FDB462"/>
<rect x="403.00" y="213.70" width="13.40" height="1.45" fill="#A6D854"/>
<rect x="403.00" y="215.00" width="13.40" height="6.25" fill="#666666"/>
<rect x="403.00" y="221.10" width="13.40" height="3.35" fill="#FFD92F"/>
<rect x="403.00" y="224.30" width="13.40" height="2.15" fill="#000000"/>
<rect x="403.00" y="226.30" width="13.40" height="14.35" fill="#A6CEE3"/>
<rect x="403.00" y="240.50" width="13.40" height="7.65" fill="#F781BF"/>
<rect x="403.00" y="248.00" width="13.40" height="3.55" fill="#A65628"/>
<rect x="403.00" y="251.40" width="13.40" height="6.85" fill="#FFFF33"/>
<rect x="403.00" y="258.10" width="13.40" height="13.05" fill="#984EA3"/>
<rect x="403.00" y="270.70" width="13.40" height="2.25" fill="#E41A1C"/>
<rect x="403.00" y="272.60" width="13.40" height="3.55" fill="#FF7F00"/>
<rect x="403.00" y="276.00" width="13.40" height="6.55" fill="#377EB8"/>
<rect x="403.00" y="282.40" width="13.40" height="5.75" fill="#4DAF4A"/>
<rect x="420.00" y="168.00" width="13.40" height="23.95" fill="#CAB2D6"/>
<rect x="420.00" y="191.80" width="13.40" height="33.55" fill="#A6CEE3"/>
<rect x="420.00" y="225.20" width="13.40" height="21.95" fill="#A65628"/>
<rect x="420.00" y="247.00" width="13.40" height="41.15" fill="#984EA3"/>
<rect x="437.00" y="168.00" width="13.40" height="6.35" fill="#CAB2D6"/>
<rect x="437.00" y="174.20" width="13.40" height="2.05" fill="#6A3D9A"/>
<rect x="437.00" y="176.10" width="13.40" height="7.35" fill="#B2DF8A"/>
<rect x="437.00" y="183.30" width="13.40" height="5.55" fill="#8DD3C7"/>
<rect x="437.00" y="188.70" width="13.40" height="13.65" fill="#FB8072"/>
<rect x="437.00" y="202.20" width="13.40" height="8.55" fill="#FDB462"/>
<rect x="437.00" y="210.60" width="13.40" height="1.45" fill="#A6D854"/>
<rect x="437.00" y="211.90" width="13.40" height="10.05" fill="#666666"/>
<rect x="437.00" y="221.80" width="13.40" height="4.55" fill="#FFD92F"/>
<rect x="437.00" y="226.20" width="13.40" height="1.35" fill="#000000"/>
<rect x="437.00" y="227.40" width="13.40" height="13.25" fill="#A6CEE3"/>
<rect x="437.00" y="240.50" width="13.40" height="7.65" fill="#F781BF"/>
<rect x="437.00" y="248.00" width="13.40" height="6.85" fill="#A65628"/>
<rect x="437.00" y="254.70" width="13.40" height="5.85" fill="#FFFF33"/>
<rect x="437.00" y="260.40" width="13.40" height="12.05" fill="#984EA3"/>
<rect x="437.00" y="272.00" width="13.40" height="1.95" fill="#E41A1C"/>
<rect x="437.00" y="273.60" width="13.40" height="4.65" fill="#FF7F00"/>
<rect x="437.00" y="278.10" width="13.40" height="4.85" fill="#377EB8"/>
<rect x="437.00" y="282.80" width="13.40" height="5.35" fill="#4DAF4A"/>
<text x="42.90" y="293.70" font-size="10.4" text-anchor="end" font-family='"Liberation Sans", Arial, sans-serif' fill="#0d0d0d">0</text>
<text x="42.90" y="268.70" font-size="10.4" text-anchor="end" font-family='"Liberation Sans", Arial, sans-serif' fill="#0d0d0d">20</text>
<text x="42.90" y="244.20" font-size="10.4" text-anchor="end" font-family='"Liberation Sans", Arial, sans-serif' fill="#0d0d0d">40</text>
<text x="42.90" y="220.80" font-size="10.4" text-anchor="end" font-family='"Liberation Sans", Arial, sans-serif' fill="#0d0d0d">60</text>
<text x="42.90" y="197.70" font-size="10.4" text-anchor="end" font-family='"Liberation Sans", Arial, sans-serif' fill="#0d0d0d">80</text>
<text x="42.90" y="170.10" font-size="10.4" text-anchor="end" font-family='"Liberation Sans", Arial, sans-serif' fill="#0d0d0d">100</text>
<text x="21.60" y="266.30" font-size="10.6" text-anchor="start" font-family='"Liberation Sans", Arial, sans-serif' fill="#0d0d0d" transform="rotate(-90 21.60 266.30)" textLength="74.9" lengthAdjust="spacingAndGlyphs">Percentage (%)</text>
<text x="69.00" y="298.40" font-size="9.3" text-anchor="middle" font-family='"Liberation Sans", Arial, sans-serif' fill="#0d0d0d">27</text>
<text x="86.50" y="298.40" font-size="9.3" text-anchor="middle" font-family='"Liberation Sans", Arial, sans-serif' fill="#0d0d0d">29</text>
<text x="103.50" y="298.40" font-size="9.3" text-anchor="middle" font-family='"Liberation Sans", Arial, sans-serif' fill="#0d0d0d">30</text>
<text x="120.50" y="298.40" font-size="9.3" text-anchor="middle" font-family='"Liberation Sans", Arial, sans-serif' fill="#0d0d0d">31</text>
<text x="137.50" y="298.40" font-size="9.3" text-anchor="middle" font-family='"Liberation Sans", Arial, sans-serif' fill="#0d0d0d">32</text>
<text x="154.30" y="298.40" font-size="9.3" text-anchor="middle" font-family='"Liberation Sans", Arial, sans-serif' fill="#0d0d0d">33</text>
<text x="170.60" y="298.40" font-size="9.3" text-anchor="middle" font-family='"Liberation Sans", Arial, sans-serif' fill="#0d0d0d">47</text>
<text x="188.30" y="298.40" font-size="9.3" text-anchor="middle" font-family='"Liberation Sans", Arial, sans-serif' fill="#0d0d0d">50</text>
<text x="206.00" y="298.40" font-size="9.3" text-anchor="middle" font-family='"Liberation Sans", Arial, sans-serif' fill="#0d0d0d">52</text>
<text x="221.00" y="298.40" font-size="9.3" text-anchor="middle" font-family='"Liberation Sans", Arial, sans-serif' fill="#0d0d0d">53</text>
<text x="238.60" y="298.40" font-size="9.3" text-anchor="middle" font-family='"Liberation Sans", Arial, sans-serif' fill="#0d0d0d">55</text>
<text x="256.00" y="298.40" font-size="9.3" text-anchor="middle" font-family='"Liberation Sans", Arial, sans-serif' fill="#0d0d0d">56</text>
<text x="272.40" y="298.40" font-size="9.3" text-anchor="middle" font-family='"Liberation Sans", Arial, sans-serif' fill="#0d0d0d">58</text>
<text x="289.60" y="298.40" font-size="9.3" text-anchor="middle" font-family='"Liberation Sans", Arial, sans-serif' fill="#0d0d0d">94</text>
<text x="307.60" y="298.40" font-size="9.3" text-anchor="middle" font-family='"Liberation Sans", Arial, sans-serif' fill="#0d0d0d">95</text>
<text x="324.40" y="298.40" font-size="9.3" text-anchor="middle" font-family='"Liberation Sans", Arial, sans-serif' fill="#0d0d0d">96</text>
<text x="341.60" y="298.40" font-size="9.3" text-anchor="middle" font-family='"Liberation Sans", Arial, sans-serif' fill="#0d0d0d">97</text>
<text x="359.00" y="298.40" font-size="9.3" text-anchor="middle" font-family='"Liberation Sans", Arial, sans-serif' fill="#0d0d0d">98</text>
<text x="374.00" y="298.40" font-size="9.3" text-anchor="middle" font-family='"Liberation Sans", Arial, sans-serif' fill="#0d0d0d">99</text>
<text x="387.50" y="298.40" font-size="9.3" text-anchor="middle" font-family='"Liberation Sans", Arial, sans-serif' fill="#0d0d0d">100</text>
<text x="407.50" y="298.40" font-size="9.3" text-anchor="middle" font-family='"Liberation Sans", Arial, sans-serif' fill="#0d0d0d">100A</text>
<text x="428.50" y="298.40" font-size="9.3" text-anchor="middle" font-family='"Liberation Sans", Arial, sans-serif' fill="#0d0d0d">100B</text>
<text x="447.30" y="298.40" font-size="9.3" text-anchor="middle" font-family='"Liberation Sans", Arial, sans-serif' fill="#0d0d0d">101</text>
<line x1="63.40" y1="300.50" x2="160.40" y2="300.50" stroke="#444" stroke-width="0.9"/>
<text x="113.00" y="309.70" font-size="9.3" text-anchor="middle" font-family='"Liberation Sans", Arial, sans-serif' fill="#0d0d0d">CDR1</text>
<line x1="183.00" y1="300.50" x2="264.00" y2="300.50" stroke="#444" stroke-width="0.9"/>
<text x="227.30" y="309.70" font-size="9.3" text-anchor="middle" font-family='"Liberation Sans", Arial, sans-serif' fill="#0d0d0d">CDR2</text>
<line x1="283.40" y1="300.50" x2="453.60" y2="300.50" stroke="#444" stroke-width="0.9"/>
<text x="378.50" y="309.70" font-size="9.3" text-anchor="middle" font-family='"Liberation Sans", Arial, sans-serif' fill="#0d0d0d">CDR3</text>
<rect x="474.00" y="170.50" width="15.40" height="5.20" fill="#4DAF4A"/>
<text x="496.00" y="176.10" font-size="7.4" text-anchor="start" font-family='"DejaVu Sans", Verdana, sans-serif' fill="#111">A</text>
<rect x="505.00" y="170.50" width="15.40" height="5.20" fill="#000000"/>
<text x="526.80" y="176.10" font-size="7.4" text-anchor="start" font-family='"DejaVu Sans", Verdana, sans-serif' fill="#111">M</text>
<rect x="474.00" y="182.37" width="15.40" height="5.20" fill="#377EB8"/>
<text x="496.00" y="187.97" font-size="7.4" text-anchor="start" font-family='"DejaVu Sans", Verdana, sans-serif' fill="#111">C</text>
<rect x="505.00" y="182.37" width="15.40" height="5.20" fill="#FFD92F"/>
<text x="526.80" y="187.97" font-size="7.4" text-anchor="start" font-family='"DejaVu Sans", Verdana, sans-serif' fill="#111">N</text>
<rect x="474.00" y="194.24" width="15.40" height="5.20" fill="#FF7F00"/>
<text x="496.00" y="199.84" font-size="7.4" text-anchor="start" font-family='"DejaVu Sans", Verdana, sans-serif' fill="#111">D</text>
<rect x="505.00" y="194.24" width="15.40" height="5.20" fill="#666666"/>
<text x="526.80" y="199.84" font-size="7.4" text-anchor="start" font-family='"DejaVu Sans", Verdana, sans-serif' fill="#111">P</text>
<rect x="474.00" y="206.11" width="15.40" height="5.20" fill="#E41A1C"/>
<text x="496.00" y="211.71" font-size="7.4" text-anchor="start" font-family='"DejaVu Sans", Verdana, sans-serif' fill="#111">E</text>
<rect x="505.00" y="206.11" width="15.40" height="5.20" fill="#A6D854"/>
<text x="526.80" y="211.71" font-size="7.4" text-anchor="start" font-family='"DejaVu Sans", Verdana, sans-serif' fill="#111">Q</text>
<rect x="474.00" y="217.98" width="15.40" height="5.20" fill="#984EA3"/>
<text x="496.00" y="223.58" font-size="7.4" text-anchor="start" font-family='"DejaVu Sans", Verdana, sans-serif' fill="#111">F</text>
<rect x="505.00" y="217.98" width="15.40" height="5.20" fill="#FDB462"/>
<text x="526.80" y="223.58" font-size="7.4" text-anchor="start" font-family='"DejaVu Sans", Verdana, sans-serif' fill="#111">R</text>
<rect x="474.00" y="229.85" width="15.40" height="5.20" fill="#FFFF33"/>
<text x="496.00" y="235.45" font-size="7.4" text-anchor="start" font-family='"DejaVu Sans", Verdana, sans-serif' fill="#111">G</text>
<rect x="505.00" y="229.85" width="15.40" height="5.20" fill="#FB8072"/>
<text x="526.80" y="235.45" font-size="7.4" text-anchor="start" font-family='"DejaVu Sans", Verdana, sans-serif' fill="#111">S</text>
<rect x="474.00" y="241.72" width="15.40" height="5.20" fill="#A65628"/>
<text x="496.00" y="247.32" font-size="7.4" text-anchor="start" font-family='"DejaVu Sans", Verdana, sans-serif' fill="#111">H</text>
<rect x="505.00" y="241.72" width="15.40" height="5.20" fill="#8DD3C7"/>
<text x="526.80" y="247.32" font-size="7.4" text-anchor="start" font-family='"DejaVu Sans", Verdana, sans-serif' fill="#111">T</text>
<rect x="474.00" y="253.59" width="15.40" height="5.20" fill="#F781BF"/>
<text x="496.00" y="259.19" font-size="7.4" text-anchor="start" font-family='"DejaVu Sans", Verdana, sans-serif' fill="#111">I</text>
<rect x="505.00" y="253.59" width="15.40" height="5.20" fill="#B2DF8A"/>
<text x="526.80" y="259.19" font-size="7.4" text-anchor="start" font-family='"DejaVu Sans", Verdana, sans-serif' fill="#111">V</text>
<rect x="474.00" y="265.46" width="15.40" height="5.20" fill="#999999"/>
<text x="496.00" y="271.06" font-size="7.4" text-anchor="start" font-family='"DejaVu Sans", Verdana, sans-serif' fill="#111">K</text>
<rect x="505.00" y="265.46" width="15.40" height="5.20" fill="#6A3D9A"/>
<text x="526.80" y="271.06" font-size="7.4" text-anchor="start" font-family='"DejaVu Sans", Verdana, sans-serif' fill="#111">W</text>
<rect x="474.00" y="277.33" width="15.40" height="5.20" fill="#A6CEE3"/>
<text x="496.00" y="282.93" font-size="7.4" text-anchor="start" font-family='"DejaVu Sans", Verdana, sans-serif' fill="#111">L</text>
<rect x="505.00" y="277.33" width="15.40" height="5.20" fill="#CAB2D6"/>
<text x="526.80" y="282.93" font-size="7.4" text-anchor="start" font-family='"DejaVu Sans", Verdana, sans-serif' fill="#111">Y</text>
</g>
<g id="panelC">
<rect x="33.50" y="317.20" width="168.80" height="135.80" fill="#fff"/>
<line x1="43.75" y1="317.20" x2="43.75" y2="453.00" stroke="#dcdcdc" stroke-width="0.6"/>
<line x1="51.60" y1="317.20" x2="51.60" y2="453.00" stroke="#dcdcdc" stroke-width="0.6"/>
<line x1="59.45" y1="317.20" x2="59.45" y2="453.00" stroke="#dcdcdc" stroke-width="0.6"/>
<line x1="67.30" y1="317.20" x2="67.30" y2="453.00" stroke="#dcdcdc" stroke-width="0.6"/>
<line x1="75.15" y1="317.20" x2="75.15" y2="453.00" stroke="#dcdcdc" stroke-width="0.6"/>
<line x1="83.00" y1="317.20" x2="83.00" y2="453.00" stroke="#dcdcdc" stroke-width="0.6"/>
<line x1="90.85" y1="317.20" x2="90.85" y2="453.00" stroke="#dcdcdc" stroke-width="0.6"/>
<line x1="98.70" y1="317.20" x2="98.70" y2="453.00" stroke="#dcdcdc" stroke-width="0.6"/>
<line x1="106.55" y1="317.20" x2="106.55" y2="453.00" stroke="#dcdcdc" stroke-width="0.6"/>
<line x1="114.40" y1="317.20" x2="114.40" y2="453.00" stroke="#dcdcdc" stroke-width="0.6"/>
<line x1="122.25" y1="317.20" x2="122.25" y2="453.00" stroke="#dcdcdc" stroke-width="0.6"/>
<line x1="130.10" y1="317.20" x2="130.10" y2="453.00" stroke="#dcdcdc" stroke-width="0.6"/>
<line x1="137.95" y1="317.20" x2="137.95" y2="453.00" stroke="#dcdcdc" stroke-width="0.6"/>
<line x1="145.80" y1="317.20" x2="145.80" y2="453.00" stroke="#dcdcdc" stroke-width="0.6"/>
<line x1="153.65" y1="317.20" x2="153.65" y2="453.00" stroke="#dcdcdc" stroke-width="0.6"/>
<line x1="161.50" y1="317.20" x2="161.50" y2="453.00" stroke="#dcdcdc" stroke-width="0.6"/>
<line x1="169.35" y1="317.20" x2="169.35" y2="453.00" stroke="#dcdcdc" stroke-width="0.6"/>
<line x1="177.20" y1="317.20" x2="177.20" y2="453.00" stroke="#dcdcdc" stroke-width="0.6"/>
<line x1="185.05" y1="317.20" x2="185.05" y2="453.00" stroke="#dcdcdc" stroke-width="0.6"/>
<line x1="192.90" y1="317.20" x2="192.90" y2="453.00" stroke="#dcdcdc" stroke-width="0.6"/>
<line x1="33.50" y1="453.00" x2="202.30" y2="453.00" stroke="#dcdcdc" stroke-width="0.6"/>
<line x1="33.50" y1="431.26" x2="202.30" y2="431.26" stroke="#dcdcdc" stroke-width="0.6"/>
<line x1="33.50" y1="409.52" x2="202.30" y2="409.52" stroke="#dcdcdc" stroke-width="0.6"/>
<line x1="33.50" y1="387.78" x2="202.30" y2="387.78" stroke="#dcdcdc" stroke-width="0.6"/>
<line x1="33.50" y1="366.04" x2="202.30" y2="366.04" stroke="#dcdcdc" stroke-width="0.6"/>
<line x1="33.50" y1="344.30" x2="202.30" y2="344.30" stroke="#dcdcdc" stroke-width="0.6"/>
<line x1="33.50" y1="322.56" x2="202.30" y2="322.56" stroke="#dcdcdc" stroke-width="0.6"/>
<rect x="41.00" y="383.43" width="2.75" height="69.57" fill="#1F77B4"/>
<rect x="43.75" y="393.76" width="2.75" height="59.24" fill="#FF7F0E"/>
<rect x="48.85" y="406.26" width="2.75" height="46.74" fill="#1F77B4"/>
<rect x="51.60" y="400.28" width="2.75" height="52.72" fill="#FF7F0E"/>
<rect x="56.70" y="406.26" width="2.75" height="46.74" fill="#1F77B4"/>
<rect x="59.45" y="416.04" width="2.75" height="36.96" fill="#FF7F0E"/>
<rect x="64.55" y="430.17" width="2.75" height="22.83" fill="#1F77B4"/>
<rect x="67.30" y="439.41" width="2.75" height="13.59" fill="#FF7F0E"/>
<rect x="72.40" y="406.26" width="2.75" height="46.74" fill="#1F77B4"/>
<rect x="75.15" y="358.43" width="2.75" height="94.57" fill="#FF7F0E"/>
<rect x="80.25" y="383.43" width="2.75" height="69.57" fill="#1F77B4"/>
<rect x="83.00" y="385.61" width="2.75" height="67.39" fill="#FF7F0E"/>
<rect x="88.10" y="406.26" width="2.75" height="46.74" fill="#1F77B4"/>
<rect x="90.85" y="412.78" width="2.75" height="40.22" fill="#FF7F0E"/>
<rect x="95.95" y="406.26" width="2.75" height="46.74" fill="#1F77B4"/>
<rect x="98.70" y="401.91" width="2.75" height="51.09" fill="#FF7F0E"/>
<rect x="103.80" y="430.17" width="2.75" height="22.83" fill="#1F77B4"/>
<rect x="106.55" y="443.22" width="2.75" height="9.78" fill="#FF7F0E"/>
<rect x="111.65" y="360.61" width="2.75" height="92.39" fill="#1F77B4"/>
<rect x="114.40" y="337.78" width="2.75" height="115.22" fill="#FF7F0E"/>
<rect x="119.50" y="430.17" width="2.75" height="22.83" fill="#1F77B4"/>
<rect x="122.25" y="436.69" width="2.75" height="16.30" fill="#FF7F0E"/>
<rect x="127.35" y="406.26" width="2.75" height="46.74" fill="#1F77B4"/>
<rect x="130.10" y="424.19" width="2.75" height="28.81" fill="#FF7F0E"/>
<rect x="135.20" y="383.43" width="2.75" height="69.57" fill="#1F77B4"/>
<rect x="137.95" y="380.17" width="2.75" height="72.83" fill="#FF7F0E"/>
<rect x="143.05" y="430.17" width="2.75" height="22.83" fill="#1F77B4"/>
<rect x="145.80" y="438.87" width="2.75" height="14.13" fill="#FF7F0E"/>
<rect x="150.90" y="360.61" width="2.75" height="92.39" fill="#1F77B4"/>
<rect x="153.65" y="373.11" width="2.75" height="79.89" fill="#FF7F0E"/>
<rect x="158.75" y="337.78" width="2.75" height="115.22" fill="#1F77B4"/>
<rect x="161.50" y="323.65" width="2.75" height="129.35" fill="#FF7F0E"/>
<rect x="166.60" y="383.43" width="2.75" height="69.57" fill="#1F77B4"/>
<rect x="169.35" y="404.08" width="2.75" height="48.91" fill="#FF7F0E"/>
<rect x="174.45" y="383.43" width="2.75" height="69.57" fill="#1F77B4"/>
<rect x="177.20" y="371.48" width="2.75" height="81.52" fill="#FF7F0E"/>
<rect x="182.30" y="430.17" width="2.75" height="22.83" fill="#1F77B4"/>
<rect x="185.05" y="429.63" width="2.75" height="23.37" fill="#FF7F0E"/>
<rect x="190.15" y="406.26" width="2.75" height="46.74" fill="#1F77B4"/>
<rect x="192.90" y="401.91" width="2.75" height="51.09" fill="#FF7F0E"/>
<rect x="35.20" y="319.00" width="93.00" height="17.00" fill="#fff" stroke="#e6e6e6" stroke-width="0.6"/>
<rect x="38.00" y="321.00" width="8.40" height="2.70" fill="#1F77B4"/>
<rect x="38.00" y="329.00" width="8.40" height="2.70" fill="#FF7F0E"/>
<text x="49.00" y="325.80" font-size="9.6" text-anchor="start" font-family='"Liberation Sans", Arial, sans-serif' fill="#0d0d0d">Expected</text>
<text x="49.00" y="333.90" font-size="9.6" text-anchor="start" font-family='"Liberation Sans", Arial, sans-serif' fill="#0d0d0d">Actual</text>
<rect x="33.50" y="317.20" width="168.80" height="135.80" fill="none" stroke="#a8a8a8" stroke-width="1.0"/>
<text x="7.80" y="329.20" font-size="16" text-anchor="start" font-family='"Liberation Sans", Arial, sans-serif' font-weight="bold" fill="#000">C</text>
<text x="31.20" y="456.00" font-size="9.7" text-anchor="end" font-family='"Liberation Sans", Arial, sans-serif' fill="#0d0d0d">0</text>
<text x="31.20" y="434.26" font-size="9.7" text-anchor="end" font-family='"Liberation Sans", Arial, sans-serif' fill="#0d0d0d">2</text>
<text x="31.20" y="412.52" font-size="9.7" text-anchor="end" font-family='"Liberation Sans", Arial, sans-serif' fill="#0d0d0d">4</text>
<text x="31.20" y="390.78" font-size="9.7" text-anchor="end" font-family='"Liberation Sans", Arial, sans-serif' fill="#0d0d0d">6</text>
<text x="31.20" y="369.04" font-size="9.7" text-anchor="end" font-family='"Liberation Sans", Arial, sans-serif' fill="#0d0d0d">8</text>
<text x="31.20" y="347.30" font-size="9.7" text-anchor="end" font-family='"Liberation Sans", Arial, sans-serif' fill="#0d0d0d">10</text>
<text x="31.20" y="325.56" font-size="9.7" text-anchor="end" font-family='"Liberation Sans", Arial, sans-serif' fill="#0d0d0d">12</text>
<text x="43.75" y="460.70" font-size="9.2" text-anchor="middle" font-family='"Liberation Sans", Arial, sans-serif' fill="#0d0d0d">A</text>
<text x="51.60" y="460.70" font-size="9.2" text-anchor="middle" font-family='"Liberation Sans", Arial, sans-serif' fill="#0d0d0d">C</text>
<text x="59.45" y="460.70" font-size="9.2" text-anchor="middle" font-family='"Liberation Sans", Arial, sans-serif' fill="#0d0d0d">D</text>
<text x="67.30" y="460.70" font-size="9.2" text-anchor="middle" font-family='"Liberation Sans", Arial, sans-serif' fill="#0d0d0d">E</text>
<text x="75.15" y="460.70" font-size="9.2" text-anchor="middle" font-family='"Liberation Sans", Arial, sans-serif' fill="#0d0d0d">F</text>
<text x="83.00" y="460.70" font-size="9.2" text-anchor="middle" font-family='"Liberation Sans", Arial, sans-serif' fill="#0d0d0d">G</text>
<text x="90.85" y="460.70" font-size="9.2" text-anchor="middle" font-family='"Liberation Sans", Arial, sans-serif' fill="#0d0d0d">H</text>
<text x="98.70" y="460.70" font-size="9.2" text-anchor="middle" font-family='"Liberation Sans", Arial, sans-serif' fill="#0d0d0d">I</text>
<text x="106.55" y="460.70" font-size="9.2" text-anchor="middle" font-family='"Liberation Sans", Arial, sans-serif' fill="#0d0d0d">K</text>
<text x="114.40" y="460.70" font-size="9.2" text-anchor="middle" font-family='"Liberation Sans", Arial, sans-serif' fill="#0d0d0d">L</text>
<text x="122.25" y="460.70" font-size="9.2" text-anchor="middle" font-family='"Liberation Sans", Arial, sans-serif' fill="#0d0d0d">M</text>
<text x="130.10" y="460.70" font-size="9.2" text-anchor="middle" font-family='"Liberation Sans", Arial, sans-serif' fill="#0d0d0d">N</text>
<text x="137.95" y="460.70" font-size="9.2" text-anchor="middle" font-family='"Liberation Sans", Arial, sans-serif' fill="#0d0d0d">P</text>
<text x="145.80" y="460.70" font-size="9.2" text-anchor="middle" font-family='"Liberation Sans", Arial, sans-serif' fill="#0d0d0d">Q</text>
<text x="153.65" y="460.70" font-size="9.2" text-anchor="middle" font-family='"Liberation Sans", Arial, sans-serif' fill="#0d0d0d">R</text>
<text x="161.50" y="460.70" font-size="9.2" text-anchor="middle" font-family='"Liberation Sans", Arial, sans-serif' fill="#0d0d0d">S</text>
<text x="169.35" y="460.70" font-size="9.2" text-anchor="middle" font-family='"Liberation Sans", Arial, sans-serif' fill="#0d0d0d">T</text>
<text x="177.20" y="460.70" font-size="9.2" text-anchor="middle" font-family='"Liberation Sans", Arial, sans-serif' fill="#0d0d0d">V</text>
<text x="185.05" y="460.70" font-size="9.2" text-anchor="middle" font-family='"Liberation Sans", Arial, sans-serif' fill="#0d0d0d">W</text>
<text x="192.90" y="460.70" font-size="9.2" text-anchor="middle" font-family='"Liberation Sans", Arial, sans-serif' fill="#0d0d0d">Y</text>
<text x="117.00" y="470.60" font-size="9.5" text-anchor="middle" font-family='"Liberation Sans", Arial, sans-serif' fill="#0d0d0d">Amino acids</text>
<text x="20.80" y="418.40" font-size="9.6" text-anchor="start" font-family='"Liberation Sans", Arial, sans-serif' fill="#0d0d0d" transform="rotate(-90 20.80 418.40)" textLength="64.5" lengthAdjust="spacingAndGlyphs">Percentage(%)</text>
</g>
<g id="panelD">
<rect x="236.20" y="317.50" width="168.20" height="134.70" fill="#fff" stroke="#c8c8c8" stroke-width="1.0"/>
<rect x="243.60" y="323.60" width="25.40" height="76.60" fill="#FFA500"/>
<rect x="243.60" y="400.00" width="25.40" height="52.00" fill="#0000FF"/>
<rect x="275.55" y="323.60" width="25.40" height="84.56" fill="#FFA500"/>
<rect x="275.55" y="407.96" width="25.40" height="44.04" fill="#0000FF"/>
<rect x="307.50" y="323.60" width="25.40" height="85.20" fill="#FFA500"/>
<rect x="307.50" y="408.60" width="25.40" height="43.40" fill="#0000FF"/>
<rect x="339.45" y="323.60" width="25.40" height="81.86" fill="#FFA500"/>
<rect x="339.45" y="405.26" width="25.40" height="46.74" fill="#0000FF"/>
<rect x="371.40" y="323.60" width="25.40" height="25.24" fill="#FFA500"/>
<rect x="371.40" y="348.64" width="25.40" height="103.36" fill="#0000FF"/>
<rect x="339.30" y="323.50" width="58.10" height="25.20" fill="#FDEBD0"/>
<rect x="339.00" y="325.60" width="16.00" height="5.40" fill="#0000FF"/>
<rect x="339.00" y="337.60" width="16.00" height="5.40" fill="#FFA500"/>
<text x="361.40" y="331.40" font-size="8.6" text-anchor="start" font-family='"DejaVu Sans Condensed", "DejaVu Sans", sans-serif' fill="#111" textLength="22.0" lengthAdjust="spacingAndGlyphs">Intact</text>
<text x="361.40" y="343.60" font-size="8.6" text-anchor="start" font-family='"DejaVu Sans Condensed", "DejaVu Sans", sans-serif' fill="#111" textLength="35.6" lengthAdjust="spacingAndGlyphs">Un-intact</text>
<text x="207.40" y="329.20" font-size="16" text-anchor="start" font-family='"Liberation Sans", Arial, sans-serif' font-weight="bold" fill="#000">D</text>
<text x="233.80" y="455.30" font-size="7.4" text-anchor="end" font-family='"DejaVu Sans", Verdana, sans-serif' fill="#111">0</text>
<text x="233.80" y="429.50" font-size="7.4" text-anchor="end" font-family='"DejaVu Sans", Verdana, sans-serif' fill="#111">20</text>
<text x="233.80" y="403.70" font-size="7.4" text-anchor="end" font-family='"DejaVu Sans", Verdana, sans-serif' fill="#111">40</text>
<text x="233.80" y="377.90" font-size="7.4" text-anchor="end" font-family='"DejaVu Sans", Verdana, sans-serif' fill="#111">60</text>
<text x="233.80" y="352.10" font-size="7.4" text-anchor="end" font-family='"DejaVu Sans", Verdana, sans-serif' fill="#111">80</text>
<text x="233.80" y="326.30" font-size="7.4" text-anchor="end" font-family='"DejaVu Sans", Verdana, sans-serif' fill="#111">100</text>
<text x="256.30" y="460.70" font-size="7.5" text-anchor="middle" font-family='"DejaVu Sans", Verdana, sans-serif' fill="#111">E1</text>
<text x="288.25" y="460.70" font-size="7.5" text-anchor="middle" font-family='"DejaVu Sans", Verdana, sans-serif' fill="#111">P1</text>
<text x="320.20" y="460.70" font-size="7.5" text-anchor="middle" font-family='"DejaVu Sans", Verdana, sans-serif' fill="#111">P2</text>
<text x="352.15" y="460.70" font-size="7.5" text-anchor="middle" font-family='"DejaVu Sans", Verdana, sans-serif' fill="#111">P3</text>
<text x="384.10" y="460.70" font-size="7.5" text-anchor="middle" font-family='"DejaVu Sans", Verdana, sans-serif' fill="#111">P-Myc</text>
<text x="320.50" y="469.70" font-size="8.2" text-anchor="middle" font-family='"DejaVu Sans", Verdana, sans-serif' fill="#111" textLength="33" lengthAdjust="spacingAndGlyphs">Samples</text>
<text x="217.00" y="415.70" font-size="7.9" text-anchor="start" font-family='"DejaVu Sans", Verdana, sans-serif' fill="#111" transform="rotate(-90 217.00 415.70)" textLength="62.4" lengthAdjust="spacingAndGlyphs">Percentage (%)</text>
</g>
<g id="panelE">
<text x="410.40" y="328.90" font-size="16" text-anchor="start" font-family='"Liberation Sans", Arial, sans-serif' font-weight="bold" fill="#000">E</text>
<path d="M445.70 355.90 L472.90 355.90 A27.2 27.2 0 1 0 418.86 360.32 Z" fill="#ADD8E6" stroke="#ADD8E6" stroke-width="0.3"/>
<path d="M445.70 355.90 L418.86 360.32 A27.2 27.2 0 0 0 451.47 382.48 Z" fill="#FFA500" stroke="#FFA500" stroke-width="0.3"/>
<path d="M445.70 355.90 L451.47 382.48 A27.2 27.2 0 0 0 467.40 372.30 Z" fill="#008000" stroke="#008000" stroke-width="0.3"/>
<path d="M445.70 355.90 L467.40 372.30 A27.2 27.2 0 0 0 472.90 355.90 Z" fill="#808080" stroke="#808080" stroke-width="0.3"/>
<path d="M514.85 355.90 L542.05 355.90 A27.2 27.2 0 0 0 488.98 347.49 Z" fill="#ADD8E6" stroke="#ADD8E6" stroke-width="0.3"/>
<path d="M514.85 355.90 L488.98 347.49 A27.2 27.2 0 0 0 514.85 383.10 Z" fill="#FFA500" stroke="#FFA500" stroke-width="0.3"/>
<path d="M514.85 355.90 L514.85 383.10 A27.2 27.2 0 0 0 535.81 373.24 Z" fill="#008000" stroke="#008000" stroke-width="0.3"/>
<path d="M514.85 355.90 L535.81 373.24 A27.2 27.2 0 0 0 542.05 355.90 Z" fill="#808080" stroke="#808080" stroke-width="0.3"/>
<path d="M446.10 423.70 L473.30 423.70 A27.2 27.2 0 1 0 419.75 430.46 Z" fill="#ADD8E6" stroke="#ADD8E6" stroke-width="0.3"/>
<path d="M446.10 423.70 L419.75 430.46 A27.2 27.2 0 0 0 456.11 448.99 Z" fill="#FFA500" stroke="#FFA500" stroke-width="0.3"/>
<path d="M446.10 423.70 L456.11 448.99 A27.2 27.2 0 0 0 469.94 436.80 Z" fill="#008000" stroke="#008000" stroke-width="0.3"/>
<path d="M446.10 423.70 L469.94 436.80 A27.2 27.2 0 0 0 473.30 423.70 Z" fill="#808080" stroke="#808080" stroke-width="0.3"/>
<path d="M515.05 423.70 L542.25 423.70 A27.2 27.2 0 0 0 497.71 402.74 Z" fill="#ADD8E6" stroke="#ADD8E6" stroke-width="0.3"/>
<path d="M515.05 423.70 L497.71 402.74 A27.2 27.2 0 0 0 496.43 443.53 Z" fill="#FFA500" stroke="#FFA500" stroke-width="0.3"/>
<path d="M515.05 423.70 L496.43 443.53 A27.2 27.2 0 0 0 520.15 450.42 Z" fill="#008000" stroke="#008000" stroke-width="0.3"/>
<path d="M515.05 423.70 L520.15 450.42 A27.2 27.2 0 0 0 542.25 423.70 Z" fill="#808080" stroke="#808080" stroke-width="0.3"/>
<text x="444.60" y="328.15" font-size="7" text-anchor="middle" font-family='"Liberation Sans", Arial, sans-serif' font-weight="bold" fill="#111" stroke="#111" stroke-width="0.2">E1</text>
<text x="513.70" y="327.25" font-size="7" text-anchor="middle" font-family='"Liberation Sans", Arial, sans-serif' font-weight="bold" fill="#111" stroke="#111" stroke-width="0.2">P1</text>
<text x="444.00" y="395.05" font-size="7" text-anchor="middle" font-family='"Liberation Sans", Arial, sans-serif' font-weight="bold" fill="#111" stroke="#111" stroke-width="0.2">P2</text>
<text x="515.70" y="393.75" font-size="7" text-anchor="middle" font-family='"Liberation Sans", Arial, sans-serif' font-weight="bold" fill="#111" stroke="#111" stroke-width="0.2">P-Myc</text>
<text x="470.50" y="335.55" font-size="7" text-anchor="middle" font-family='"Liberation Sans", Arial, sans-serif' font-weight="bold" fill="#111" stroke="#111" stroke-width="0.2">n=1</text>
<text x="481.00" y="371.85" font-size="7" text-anchor="middle" font-family='"Liberation Sans", Arial, sans-serif' font-weight="bold" fill="#111" stroke="#111" stroke-width="0.2">n&gt;3</text>
<text x="467.70" y="383.85" font-size="7" text-anchor="middle" font-family='"Liberation Sans", Arial, sans-serif' font-weight="bold" fill="#111" stroke="#111" stroke-width="0.2">n=3</text>
<text x="420.10" y="384.95" font-size="7" text-anchor="middle" font-family='"Liberation Sans", Arial, sans-serif' font-weight="bold" fill="#111" stroke="#111" stroke-width="0.2">n=2</text>
<text x="447.90" y="347.65" font-size="7" text-anchor="middle" font-family='"Liberation Sans", Arial, sans-serif' font-weight="bold" fill="#111" stroke="#111" stroke-width="0.2">53%</text>
<text x="435.70" y="369.85" font-size="7" text-anchor="middle" font-family='"Liberation Sans", Arial, sans-serif' font-weight="bold" fill="#111" stroke="#111" stroke-width="0.2">26%</text>
<text x="455.60" y="372.95" font-size="7" text-anchor="middle" font-family='"Liberation Sans", Arial, sans-serif' font-weight="bold" fill="#111" stroke="#111" stroke-width="0.2">11%</text>
<text x="465.90" y="364.05" font-size="7" text-anchor="middle" font-family='"Liberation Sans", Arial, sans-serif' font-weight="bold" fill="#111" stroke="#111" stroke-width="0.2">10%</text>
<text x="517.60" y="346.85" font-size="7" text-anchor="middle" font-family='"Liberation Sans", Arial, sans-serif' font-weight="bold" fill="#111" stroke="#111" stroke-width="0.2">45%</text>
<text x="502.80" y="364.85" font-size="7" text-anchor="middle" font-family='"Liberation Sans", Arial, sans-serif' font-weight="bold" fill="#111" stroke="#111" stroke-width="0.2">30%</text>
<text x="523.50" y="375.25" font-size="7" text-anchor="middle" font-family='"Liberation Sans", Arial, sans-serif' font-weight="bold" fill="#111" stroke="#111" stroke-width="0.2">14%</text>
<text x="534.40" y="364.05" font-size="7" text-anchor="middle" font-family='"Liberation Sans", Arial, sans-serif' font-weight="bold" fill="#111" stroke="#111" stroke-width="0.2">11%</text>
<text x="445.10" y="412.95" font-size="7" text-anchor="middle" font-family='"Liberation Sans", Arial, sans-serif' font-weight="bold" fill="#111" stroke="#111" stroke-width="0.2">54%</text>
<text x="437.80" y="440.25" font-size="7" text-anchor="middle" font-family='"Liberation Sans", Arial, sans-serif' font-weight="bold" fill="#111" stroke="#111" stroke-width="0.2">27%</text>
<text x="459.10" y="439.05" font-size="7" text-anchor="middle" font-family='"Liberation Sans", Arial, sans-serif' font-weight="bold" fill="#111" stroke="#111" stroke-width="0.2">11%</text>
<text x="464.60" y="430.95" font-size="7" text-anchor="middle" font-family='"Liberation Sans", Arial, sans-serif' font-weight="bold" fill="#111" stroke="#111" stroke-width="0.2">8%</text>
<text x="524.10" y="412.95" font-size="7" text-anchor="middle" font-family='"Liberation Sans", Arial, sans-serif' font-weight="bold" fill="#111" stroke="#111" stroke-width="0.2">36%</text>
<text x="500.70" y="426.25" font-size="7" text-anchor="middle" font-family='"Liberation Sans", Arial, sans-serif' font-weight="bold" fill="#111" stroke="#111" stroke-width="0.2">27%</text>
<text x="510.90" y="443.75" font-size="7" text-anchor="middle" font-family='"Liberation Sans", Arial, sans-serif' font-weight="bold" fill="#111" stroke="#111" stroke-width="0.2">15%</text>
<text x="531.30" y="435.55" font-size="7" text-anchor="middle" font-family='"Liberation Sans", Arial, sans-serif' font-weight="bold" fill="#111" stroke="#111" stroke-width="0.2">22%</text>
</g>
</svg>
</body></html>
